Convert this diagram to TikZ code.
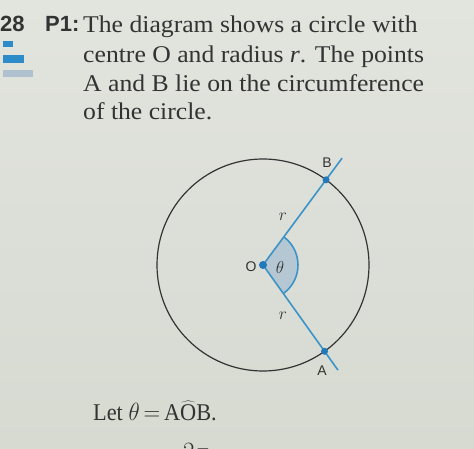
\documentclass[tikz,border=0pt]{standalone}
\usepackage{fontspec}
\setmainfont{Liberation Serif}
\setsansfont{Liberation Sans}
\usetikzlibrary{calc}
\definecolor{bgtop}{HTML}{E2E4DE}
\definecolor{bgbot}{HTML}{D6DAD1}
\definecolor{inkc}{HTML}{333333}
\definecolor{lineblue}{HTML}{3C93C8}
\definecolor{dotblue}{HTML}{2278B8}
\definecolor{sectorfill}{HTML}{B4C7D3}
\definecolor{markblue}{HTML}{2C8BC8}
\definecolor{markgrey}{HTML}{AFC0CE}
\newcommand{\wideline}[1]{\scalebox{1.07}[1]{#1}}
\tikzset{
  body/.style={anchor=base west, inner sep=0pt, text=inkc, font=\fontsize{24}{29}\selectfont},
  head/.style={anchor=base west, inner sep=0pt, text=inkc, font=\sffamily\bfseries\fontsize{22}{26}\selectfont},
  lab/.style={inner sep=0pt, text=inkc, font=\sffamily\fontsize{14}{16}\selectfont},
  mlab/.style={inner sep=0pt, text=inkc, font=\fontsize{16}{18}\selectfont},
  ray/.style={draw=lineblue, line width=1.6pt},
  dot/.style={circle, fill=dotblue, inner sep=0pt, minimum size=7pt},
}
\begin{document}
\begin{tikzpicture}[x=1pt,y=-1pt]
\useasboundingbox (0,0) rectangle (474,449);
\shade[top color=bgtop, bottom color=bgbot] (0,0) rectangle (474,449);
\begin{scope}
\clip (0,0) rectangle (474,449);
% margin marks
\fill[markblue] (3,41) rectangle (13,47);
\fill[markblue] (3,55) rectangle (24,63);
\fill[markgrey] (3,70) rectangle (33,77);
\node[head] (num) at (0,32) {28};
\node[head] (p1) at (45,32) {P1:};
% text
\node[body] (l1) at (83,33) {\wideline{The diagram shows a circle with}};
\node[body] (l2) at (83,63) {\wideline{centre O and radius \textit{r}. The points}};
\node[body] (l3) at (83,92) {\wideline{A and B lie on the circumference}};
\node[body] (l4) at (83,120) {\wideline{of the circle.}};
% diagram
\coordinate (O) at (263,265);
\draw[inkc, line width=1.2pt] (O) circle[radius=106];
\fill[sectorfill] (O) -- ($(O)+(-53.5:35)$) arc[start angle=-53.5, end angle=54.5, radius=35] -- cycle;
\draw[ray] ($(O)+(-53.5:35)$) arc[start angle=-53.5, end angle=54.5, radius=35];
\coordinate (Bend) at ($(O)+(-53.5:133)$);
\coordinate (Aend) at ($(O)+(54.5:129)$);
\draw[ray] (Bend) -- (O) -- (Aend);
\node[dot] (B) at ($(O)+(-53.5:106)$) {};
\node[dot] (A) at ($(O)+(54.5:106)$) {};
\node[dot, minimum size=8pt] (Od) at (O) {};
\node[lab] (Bl) at (327,163) {B};
\node[lab] (Al) at (322,371) {A};
\node[lab] (Ol) at (251,267) {O};
\node[mlab] (th) at (280,267) {$\theta$};
\node[mlab] (r1) at (283,217) {$r$};
\node[mlab] (r2) at (283,316) {$r$};
% bottom
\node[body] (let) at (93,420) {\scalebox{0.93}[1]{Let $\theta\mkern3mu{=}\mkern3mu\mathrm{A}\widehat{\mathrm{O}}\mathrm{B}$.}};
\node[body] (twopi) at (183,459) {$2\pi$};
\end{scope}
\end{tikzpicture}
\end{document}
